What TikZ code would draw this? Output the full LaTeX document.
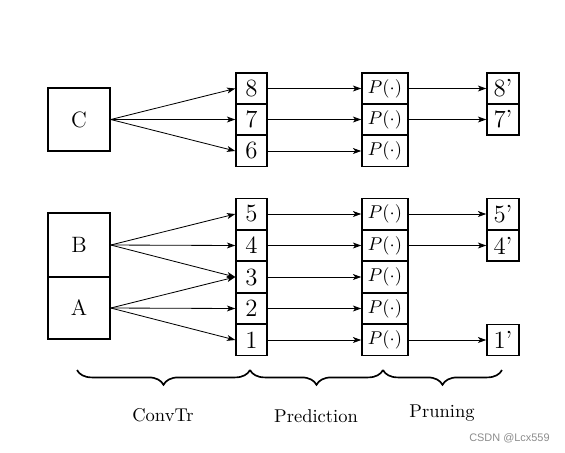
\documentclass[tikz,border=0pt]{standalone}
\usepackage{fontspec}
\newfontfamily\wmfont{Liberation Sans}
\usetikzlibrary{arrows.meta,decorations.pathreplacing}
\def\u{0.54pt}
\tikzset{
  cell/.style={draw, line width=0.8pt, inner sep=0pt, minimum width=31*\u, minimum height=31.4*\u, font=\fontsize{13.4pt}{16pt}\selectfont},
  pcell/.style={cell, minimum width=46*\u, font=\normalsize},
  qcell/.style={cell, minimum width=32*\u},
  big/.style={draw, line width=0.8pt, inner sep=0pt, minimum width=62*\u, font=\large},
  conn/.style={-{Stealth[length=4.5pt,width=3.2pt,inset=1.2pt]}, line width=0.45pt},
  brc/.style={decorate, decoration={brace, mirror, amplitude=8pt}, line width=0.9pt},
}
\begin{document}
\begin{tikzpicture}[x=\u, y=-\u]
\useasboundingbox (0,0) rectangle (565,452);
% big boxes
\node[big, minimum height=63*\u] (C) at (79,119.5) {C};
\node[big, minimum height=64*\u] (B) at (79,245) {B};
\node[big, minimum height=62*\u] (A) at (79,308) {A};
% number column
\foreach \n/\y in {8/88.5,7/119.5,6/151,5/214,4/245.5,3/277,2/308.5,1/340}{
  \node[cell] (n\n) at (251.5,\y) {\n};
  \node[pcell] (p\n) at (385,\y) {$P(\cdot)$};
  \draw[conn] (n\n) -- (p\n);
}
\foreach \n/\y in {8/88.5,7/119.5,5/214,4/245.5,1/340}{
  \node[qcell] (q\n) at (503,\y) {\n'};
  \draw[conn] (p\n) -- (q\n);
}
% ConvTr arrows
\foreach \n in {8,7,6}{\draw[conn] (C.east) -- (n\n.west);}
\foreach \n in {5,4,3}{\draw[conn] (B.east) -- (n\n.west);}
\foreach \n in {3,2,1}{\draw[conn] (A.east) -- (n\n.west);}
% braces
\coordinate (b0) at (77,370);
\coordinate (b1) at (250,370);
\coordinate (b2) at (383,370);
\coordinate (b3) at (502,370);
\draw[brc] (b0) -- (b1);
\draw[brc] (b1) -- (b2);
\draw[brc] (b2) -- (b3);
\node (l1) at (163,415) {ConvTr};
\node (l2) at (316,416) {Prediction};
\node (l3) at (442,413) {Pruning};
\node[text=black!45, font=\wmfont\fontsize{5.9}{7}\selectfont, anchor=east, inner sep=0pt] (wm) at (550,438) {CSDN @Lcx559};
\end{tikzpicture}
\end{document}
